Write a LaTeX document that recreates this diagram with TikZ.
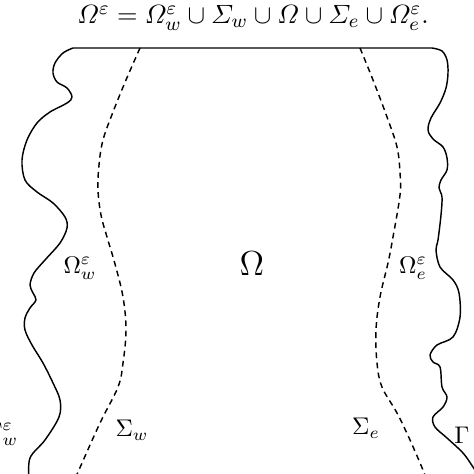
\documentclass[tikz,border=0pt]{standalone}
\usepackage{amsmath, amssymb, amsfonts}
\usepackage{tikz}
\usetikzlibrary{calc, positioning}
\tikzset{
    textnode/.style = {draw=none, fill=none, rectangle, inner sep = 0em, font=\normalsize},
    bigtextnode/.style = {draw=none, fill=none, rectangle, inner sep = 0em, font=\Large},
    eqnode/.style = {draw=none, fill=none, rectangle, inner sep = 0em, font=\fontsize{10.9}{13}\selectfont},
    boundary/.style = {black, line width=0.6pt, line join=round},
    interface/.style = {black, line width=0.6pt, dash pattern=on 2.4pt off 1.8pt}
}

\begin{document}
\begin{tikzpicture}[x=0.415pt, y=-0.415pt]
    \clip (0,0) rectangle (474,474);

    \node [name=eq, eqnode] at (253,18)
        {$\varOmega^\varepsilon = \varOmega^\varepsilon_w \cup \varSigma_w \cup \varOmega
          \cup \varSigma_e \cup \varOmega^\varepsilon_e.$};

    % outer boundary: west wall, top, east wall
    \draw [boundary] plot [smooth, tension=0.55] coordinates {
        (29,480) (30,458) (45,440) (59,417) (60,400) (53,383) (43,363) (32,345)
        (25,330) (25,318) (30,308) (36,300) (33,293) (30,285) (34,273) (45,260)
        (60,243) (67,228) (65,217) (53,203) (37,192) (25,180) (22,160) (27,140)
        (37,123) (50,112) (67,103) (72,97) (67,88) (57,82) (53,73) (55,63)
        (63,53) (73,48)}
        -- (432,48)
        plot [smooth, tension=0.55] coordinates {
        (432,48) (442,51) (447,60) (448,73) (446,88) (440,103) (431,118) (428,130)
        (433,139) (443,147) (447,158) (447,170) (441,180) (439,188) (442,197)
        (441,215) (438,240) (436,250) (440,267) (453,280) (459,293) (460,317)
        (453,337) (437,345) (430,355) (433,362) (440,367) (442,387) (447,397)
        (443,407) (433,417) (435,427) (447,438) (463,453) (473,467) (480,478)};

    % interfaces
    \draw [interface] plot [smooth, tension=0.6] coordinates {
        (140,48) (126,80) (113,112) (103,140) (99,165) (98,190) (101,215) (107,237)
        (115,264) (123,297) (126,330) (123,363) (118,387) (100,423) (78,472) (76,476)};
    \draw [interface] plot [smooth, tension=0.6] coordinates {
        (360,48) (373,80) (387,117) (397,147) (400,173) (400,195) (393,237)
        (388,263) (380,297) (376,330) (377,363) (382,387) (397,413) (410,440)
        (423,470) (425,476)};

    % labels
    \node [name=om, bigtextnode] at (252,264) {$\Omega$};
    \node [name=omw, textnode] at (80,268) {$\Omega^\varepsilon_w$};
    \node [name=ome, textnode] at (413,268) {$\Omega^\varepsilon_e$};
    \node [name=sigw, textnode] at (132,430) {$\Sigma_w$};
    \node [name=sige, textnode] at (366,428) {$\Sigma_e$};
    \node [name=gam, textnode] at (462,435) {$\Gamma$};
    \node [name=gamw, textnode] at (3,434) {$\Gamma^\varepsilon_w$};
\end{tikzpicture}
\end{document}
